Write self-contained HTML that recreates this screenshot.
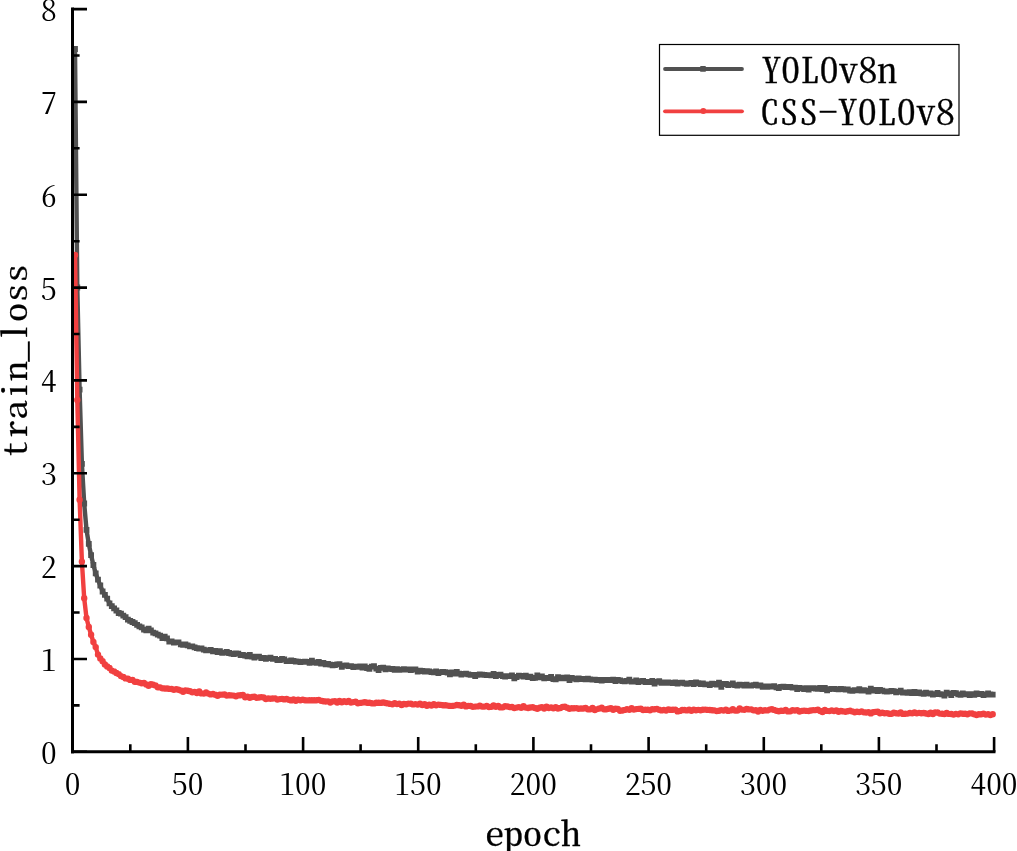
<!DOCTYPE html>
<html><head><meta charset="utf-8"><title>train_loss</title><style>html,body{margin:0;padding:0;background:#fff;}svg{display:block;}</style></head><body>
<svg width="1017" height="851" viewBox="0 0 1017 851">
<rect width="1017" height="851" fill="#fff"/>
<polyline points="75.0,49.0 77.3,287.5 79.6,389.6 81.9,463.9 84.2,503.5 86.5,529.8 88.8,543.9 91.1,555.2 93.4,565.0 95.7,573.4 98.0,579.7 100.3,585.5 102.6,591.5 104.9,594.8 107.2,598.6 109.5,603.4 111.8,606.1 114.1,608.3 116.4,610.5 118.7,613.0 121.0,613.7 123.3,615.7 125.6,617.2 127.9,619.6 130.2,620.8 132.5,622.0 134.8,623.1 137.1,624.8 139.4,626.3 141.7,627.3 144.0,629.6 146.3,630.4 148.6,628.7 150.9,630.3 153.2,632.6 155.5,633.3 157.8,634.7 160.1,635.7 162.4,638.1 164.7,636.7 167.0,638.4 169.3,641.5 171.6,641.5 173.9,642.5 176.2,642.4 178.5,642.3 180.8,644.3 183.1,644.9 185.4,644.5 187.7,645.4 190.0,646.4 192.3,646.3 194.6,647.4 196.9,648.1 199.2,648.5 201.5,648.5 203.8,649.7 206.1,650.4 208.4,650.3 210.7,649.8 213.0,651.3 215.3,650.8 217.6,652.2 219.9,651.1 222.2,652.9 224.5,652.6 226.8,652.0 229.1,653.0 231.4,653.6 233.7,654.1 236.0,653.5 238.3,653.7 240.6,655.0 242.9,654.9 245.2,655.7 247.5,656.4 249.8,654.8 252.1,656.6 254.4,657.6 256.7,656.7 259.0,656.6 261.3,658.1 263.6,658.0 265.9,658.8 268.2,658.1 270.5,657.6 272.8,658.9 275.1,658.9 277.4,660.1 279.7,660.0 282.0,658.9 284.3,659.5 286.6,661.2 288.9,661.2 291.2,660.4 293.5,661.0 295.8,661.5 298.1,661.6 300.4,662.1 302.7,661.8 305.0,661.7 307.3,661.8 309.6,662.9 311.9,660.6 314.2,662.4 316.5,662.8 318.8,661.9 321.1,663.5 323.4,663.0 325.7,664.4 328.0,663.9 330.3,664.7 332.6,665.4 334.9,665.0 337.2,664.3 339.5,664.1 341.8,666.8 344.1,665.6 346.4,665.4 348.7,666.2 351.0,666.1 353.3,667.1 355.6,666.6 357.9,666.8 360.2,666.4 362.5,667.5 364.8,666.5 367.1,668.0 369.4,668.8 371.7,666.7 374.0,666.1 376.3,668.6 378.6,670.2 380.9,667.8 383.2,667.7 385.5,669.3 387.8,668.4 390.1,668.8 392.4,669.0 394.7,669.8 397.0,669.2 399.3,669.9 401.6,669.6 403.9,669.2 406.2,669.7 408.5,669.3 410.8,670.1 413.1,669.4 415.4,669.5 417.7,671.5 420.0,670.6 422.3,671.0 424.6,671.7 426.9,671.2 429.2,671.5 431.5,672.2 433.8,672.3 436.1,671.3 438.4,673.0 440.7,672.1 443.0,671.9 445.3,672.2 447.6,672.7 449.9,674.4 452.2,672.4 454.5,673.6 456.8,672.0 459.1,673.7 461.4,674.5 463.7,673.8 466.0,673.6 468.3,674.4 470.6,674.9 472.9,674.9 475.2,676.0 477.5,674.8 479.8,674.3 482.1,674.7 484.4,674.9 486.7,675.1 489.0,675.1 491.3,675.3 493.6,674.0 495.9,676.0 498.2,675.0 500.5,674.7 502.8,676.1 505.1,676.7 507.4,676.2 509.7,676.1 512.0,675.4 514.3,678.3 516.6,677.0 518.9,675.6 521.2,675.9 523.5,676.7 525.8,675.6 528.1,677.0 530.4,676.6 532.7,678.0 535.0,677.9 537.3,675.3 539.6,677.4 541.9,676.3 544.2,678.4 546.5,677.8 548.8,678.1 551.1,676.9 553.4,679.1 555.7,679.4 558.0,677.1 560.3,678.3 562.6,677.7 564.9,678.3 567.2,677.5 569.5,680.0 571.8,678.0 574.1,678.6 576.4,679.3 578.7,678.5 581.0,679.0 583.3,678.8 585.6,679.3 587.9,678.6 590.2,679.3 592.5,679.6 594.8,679.6 597.1,680.0 599.4,679.8 601.7,680.6 604.0,679.9 606.3,680.1 608.6,679.8 610.9,680.0 613.2,679.6 615.5,681.0 617.8,679.8 620.1,680.3 622.4,681.2 624.7,681.3 627.0,680.8 629.3,679.7 631.6,681.7 633.9,681.6 636.2,680.5 638.5,682.2 640.8,681.2 643.1,681.0 645.4,682.0 647.7,681.9 650.0,682.2 652.3,681.0 654.6,683.6 656.9,681.9 659.2,681.2 661.5,682.9 663.8,682.3 666.1,682.9 668.4,682.5 670.7,682.8 673.0,683.1 675.3,682.4 677.6,683.6 679.9,682.8 682.2,682.6 684.5,683.4 686.8,683.8 689.1,683.3 691.4,683.0 693.7,684.2 696.0,682.5 698.3,683.2 700.6,684.2 702.9,683.3 705.2,684.4 707.5,684.4 709.8,685.1 712.1,683.7 714.4,684.0 716.7,684.7 719.0,682.6 721.3,686.8 723.6,684.0 725.9,684.0 728.2,685.2 730.5,684.6 732.8,683.4 735.1,685.2 737.4,685.5 739.7,684.6 742.0,684.8 744.3,685.5 746.6,684.6 748.9,685.7 751.2,685.7 753.5,685.1 755.8,684.7 758.1,685.7 760.4,685.3 762.7,686.8 765.0,686.3 767.3,686.9 769.6,686.5 771.9,686.7 774.2,686.1 776.5,687.3 778.8,688.2 781.1,686.8 783.4,686.7 785.7,687.1 788.0,687.0 790.3,687.0 792.6,687.7 794.9,687.6 797.2,689.0 799.5,688.0 801.8,688.4 804.1,689.0 806.4,688.2 808.7,689.6 811.0,688.1 813.3,688.1 815.6,688.5 817.9,688.8 820.2,687.9 822.5,689.0 824.8,687.9 827.1,690.3 829.4,689.2 831.7,688.9 834.0,688.8 836.3,689.2 838.6,689.4 840.9,688.9 843.2,689.1 845.5,689.7 847.8,689.5 850.1,690.7 852.4,690.9 854.7,690.1 857.0,690.4 859.3,689.1 861.6,690.6 863.9,690.2 866.2,690.6 868.5,691.5 870.8,688.7 873.1,690.7 875.4,689.8 877.7,691.2 880.0,689.9 882.3,690.6 884.6,691.3 886.9,691.7 889.2,691.4 891.5,690.9 893.8,691.2 896.1,692.4 898.4,691.8 900.7,690.7 903.0,692.7 905.3,692.4 907.6,692.9 909.9,692.1 912.2,693.1 914.5,691.8 916.8,693.1 919.1,692.4 921.4,693.4 923.7,693.8 926.0,692.6 928.3,693.3 930.6,693.5 932.9,694.5 935.2,694.2 937.5,692.8 939.8,694.1 942.1,694.4 944.4,695.5 946.7,692.7 949.0,693.6 951.3,695.0 953.6,693.0 955.9,693.1 958.2,694.4 960.5,694.8 962.8,693.5 965.1,694.4 967.4,694.1 969.7,695.2 972.0,694.1 974.3,694.8 976.6,693.4 978.9,694.0 981.2,694.0 983.5,695.0 985.8,694.5 988.1,693.5 990.4,694.5 992.7,694.6" fill="none" stroke="#515151" stroke-width="4.4" stroke-linejoin="round"/>
<path d="M75.0 49.0h0M77.3 287.5h0M79.6 389.6h0M81.9 463.9h0M84.2 503.5h0M86.5 529.8h0M88.8 543.9h0M91.1 555.2h0M93.4 565.0h0M95.7 573.4h0M98.0 579.7h0M100.3 585.5h0M102.6 591.5h0M104.9 594.8h0M107.2 598.6h0M109.5 603.4h0M111.8 606.1h0M114.1 608.3h0M116.4 610.5h0M118.7 613.0h0M121.0 613.7h0M123.3 615.7h0M125.6 617.2h0M127.9 619.6h0M130.2 620.8h0M132.5 622.0h0M134.8 623.1h0M137.1 624.8h0M139.4 626.3h0M141.7 627.3h0M144.0 629.6h0M146.3 630.4h0M148.6 628.7h0M150.9 630.3h0M153.2 632.6h0M155.5 633.3h0M157.8 634.7h0M160.1 635.7h0M162.4 638.1h0M164.7 636.7h0M167.0 638.4h0M169.3 641.5h0M171.6 641.5h0M173.9 642.5h0M176.2 642.4h0M178.5 642.3h0M180.8 644.3h0M183.1 644.9h0M185.4 644.5h0M187.7 645.4h0M190.0 646.4h0M192.3 646.3h0M194.6 647.4h0M196.9 648.1h0M199.2 648.5h0M201.5 648.5h0M203.8 649.7h0M206.1 650.4h0M208.4 650.3h0M210.7 649.8h0M213.0 651.3h0M215.3 650.8h0M217.6 652.2h0M219.9 651.1h0M222.2 652.9h0M224.5 652.6h0M226.8 652.0h0M229.1 653.0h0M231.4 653.6h0M233.7 654.1h0M236.0 653.5h0M238.3 653.7h0M240.6 655.0h0M242.9 654.9h0M245.2 655.7h0M247.5 656.4h0M249.8 654.8h0M252.1 656.6h0M254.4 657.6h0M256.7 656.7h0M259.0 656.6h0M261.3 658.1h0M263.6 658.0h0M265.9 658.8h0M268.2 658.1h0M270.5 657.6h0M272.8 658.9h0M275.1 658.9h0M277.4 660.1h0M279.7 660.0h0M282.0 658.9h0M284.3 659.5h0M286.6 661.2h0M288.9 661.2h0M291.2 660.4h0M293.5 661.0h0M295.8 661.5h0M298.1 661.6h0M300.4 662.1h0M302.7 661.8h0M305.0 661.7h0M307.3 661.8h0M309.6 662.9h0M311.9 660.6h0M314.2 662.4h0M316.5 662.8h0M318.8 661.9h0M321.1 663.5h0M323.4 663.0h0M325.7 664.4h0M328.0 663.9h0M330.3 664.7h0M332.6 665.4h0M334.9 665.0h0M337.2 664.3h0M339.5 664.1h0M341.8 666.8h0M344.1 665.6h0M346.4 665.4h0M348.7 666.2h0M351.0 666.1h0M353.3 667.1h0M355.6 666.6h0M357.9 666.8h0M360.2 666.4h0M362.5 667.5h0M364.8 666.5h0M367.1 668.0h0M369.4 668.8h0M371.7 666.7h0M374.0 666.1h0M376.3 668.6h0M378.6 670.2h0M380.9 667.8h0M383.2 667.7h0M385.5 669.3h0M387.8 668.4h0M390.1 668.8h0M392.4 669.0h0M394.7 669.8h0M397.0 669.2h0M399.3 669.9h0M401.6 669.6h0M403.9 669.2h0M406.2 669.7h0M408.5 669.3h0M410.8 670.1h0M413.1 669.4h0M415.4 669.5h0M417.7 671.5h0M420.0 670.6h0M422.3 671.0h0M424.6 671.7h0M426.9 671.2h0M429.2 671.5h0M431.5 672.2h0M433.8 672.3h0M436.1 671.3h0M438.4 673.0h0M440.7 672.1h0M443.0 671.9h0M445.3 672.2h0M447.6 672.7h0M449.9 674.4h0M452.2 672.4h0M454.5 673.6h0M456.8 672.0h0M459.1 673.7h0M461.4 674.5h0M463.7 673.8h0M466.0 673.6h0M468.3 674.4h0M470.6 674.9h0M472.9 674.9h0M475.2 676.0h0M477.5 674.8h0M479.8 674.3h0M482.1 674.7h0M484.4 674.9h0M486.7 675.1h0M489.0 675.1h0M491.3 675.3h0M493.6 674.0h0M495.9 676.0h0M498.2 675.0h0M500.5 674.7h0M502.8 676.1h0M505.1 676.7h0M507.4 676.2h0M509.7 676.1h0M512.0 675.4h0M514.3 678.3h0M516.6 677.0h0M518.9 675.6h0M521.2 675.9h0M523.5 676.7h0M525.8 675.6h0M528.1 677.0h0M530.4 676.6h0M532.7 678.0h0M535.0 677.9h0M537.3 675.3h0M539.6 677.4h0M541.9 676.3h0M544.2 678.4h0M546.5 677.8h0M548.8 678.1h0M551.1 676.9h0M553.4 679.1h0M555.7 679.4h0M558.0 677.1h0M560.3 678.3h0M562.6 677.7h0M564.9 678.3h0M567.2 677.5h0M569.5 680.0h0M571.8 678.0h0M574.1 678.6h0M576.4 679.3h0M578.7 678.5h0M581.0 679.0h0M583.3 678.8h0M585.6 679.3h0M587.9 678.6h0M590.2 679.3h0M592.5 679.6h0M594.8 679.6h0M597.1 680.0h0M599.4 679.8h0M601.7 680.6h0M604.0 679.9h0M606.3 680.1h0M608.6 679.8h0M610.9 680.0h0M613.2 679.6h0M615.5 681.0h0M617.8 679.8h0M620.1 680.3h0M622.4 681.2h0M624.7 681.3h0M627.0 680.8h0M629.3 679.7h0M631.6 681.7h0M633.9 681.6h0M636.2 680.5h0M638.5 682.2h0M640.8 681.2h0M643.1 681.0h0M645.4 682.0h0M647.7 681.9h0M650.0 682.2h0M652.3 681.0h0M654.6 683.6h0M656.9 681.9h0M659.2 681.2h0M661.5 682.9h0M663.8 682.3h0M666.1 682.9h0M668.4 682.5h0M670.7 682.8h0M673.0 683.1h0M675.3 682.4h0M677.6 683.6h0M679.9 682.8h0M682.2 682.6h0M684.5 683.4h0M686.8 683.8h0M689.1 683.3h0M691.4 683.0h0M693.7 684.2h0M696.0 682.5h0M698.3 683.2h0M700.6 684.2h0M702.9 683.3h0M705.2 684.4h0M707.5 684.4h0M709.8 685.1h0M712.1 683.7h0M714.4 684.0h0M716.7 684.7h0M719.0 682.6h0M721.3 686.8h0M723.6 684.0h0M725.9 684.0h0M728.2 685.2h0M730.5 684.6h0M732.8 683.4h0M735.1 685.2h0M737.4 685.5h0M739.7 684.6h0M742.0 684.8h0M744.3 685.5h0M746.6 684.6h0M748.9 685.7h0M751.2 685.7h0M753.5 685.1h0M755.8 684.7h0M758.1 685.7h0M760.4 685.3h0M762.7 686.8h0M765.0 686.3h0M767.3 686.9h0M769.6 686.5h0M771.9 686.7h0M774.2 686.1h0M776.5 687.3h0M778.8 688.2h0M781.1 686.8h0M783.4 686.7h0M785.7 687.1h0M788.0 687.0h0M790.3 687.0h0M792.6 687.7h0M794.9 687.6h0M797.2 689.0h0M799.5 688.0h0M801.8 688.4h0M804.1 689.0h0M806.4 688.2h0M808.7 689.6h0M811.0 688.1h0M813.3 688.1h0M815.6 688.5h0M817.9 688.8h0M820.2 687.9h0M822.5 689.0h0M824.8 687.9h0M827.1 690.3h0M829.4 689.2h0M831.7 688.9h0M834.0 688.8h0M836.3 689.2h0M838.6 689.4h0M840.9 688.9h0M843.2 689.1h0M845.5 689.7h0M847.8 689.5h0M850.1 690.7h0M852.4 690.9h0M854.7 690.1h0M857.0 690.4h0M859.3 689.1h0M861.6 690.6h0M863.9 690.2h0M866.2 690.6h0M868.5 691.5h0M870.8 688.7h0M873.1 690.7h0M875.4 689.8h0M877.7 691.2h0M880.0 689.9h0M882.3 690.6h0M884.6 691.3h0M886.9 691.7h0M889.2 691.4h0M891.5 690.9h0M893.8 691.2h0M896.1 692.4h0M898.4 691.8h0M900.7 690.7h0M903.0 692.7h0M905.3 692.4h0M907.6 692.9h0M909.9 692.1h0M912.2 693.1h0M914.5 691.8h0M916.8 693.1h0M919.1 692.4h0M921.4 693.4h0M923.7 693.8h0M926.0 692.6h0M928.3 693.3h0M930.6 693.5h0M932.9 694.5h0M935.2 694.2h0M937.5 692.8h0M939.8 694.1h0M942.1 694.4h0M944.4 695.5h0M946.7 692.7h0M949.0 693.6h0M951.3 695.0h0M953.6 693.0h0M955.9 693.1h0M958.2 694.4h0M960.5 694.8h0M962.8 693.5h0M965.1 694.4h0M967.4 694.1h0M969.7 695.2h0M972.0 694.1h0M974.3 694.8h0M976.6 693.4h0M978.9 694.0h0M981.2 694.0h0M983.5 695.0h0M985.8 694.5h0M988.1 693.5h0M990.4 694.5h0M992.7 694.6h0" stroke="#515151" stroke-width="5.8" stroke-linecap="square" fill="none"/>
<polyline points="75.0,255.0 77.3,400.0 79.6,499.7 81.9,561.6 84.2,598.3 86.5,618.0 88.8,627.0 91.1,634.7 93.4,642.0 95.7,647.1 98.0,654.6 100.3,658.5 102.6,661.2 104.9,664.4 107.2,666.4 109.5,667.9 111.8,670.6 114.1,671.5 116.4,673.0 118.7,674.1 121.0,676.1 123.3,677.0 125.6,678.4 127.9,678.7 130.2,679.9 132.5,680.0 134.8,681.7 137.1,681.9 139.4,682.6 141.7,683.2 144.0,683.0 146.3,684.5 148.6,685.7 150.9,684.2 153.2,684.7 155.5,685.4 157.8,687.3 160.1,687.4 162.4,688.3 164.7,688.5 167.0,688.5 169.3,688.9 171.6,689.0 173.9,689.8 176.2,689.1 178.5,689.8 180.8,690.5 183.1,691.7 185.4,690.5 187.7,690.7 190.0,691.2 192.3,692.3 194.6,691.9 196.9,693.1 199.2,691.5 201.5,693.4 203.8,693.6 206.1,692.5 208.4,693.6 210.7,694.4 213.0,694.0 215.3,694.7 217.6,695.7 219.9,694.7 222.2,694.6 224.5,694.5 226.8,695.5 229.1,695.2 231.4,695.4 233.7,695.6 236.0,696.2 238.3,695.4 240.6,695.3 242.9,695.0 245.2,697.2 247.5,696.7 249.8,697.7 252.1,697.0 254.4,696.8 256.7,697.7 259.0,697.5 261.3,697.1 263.6,697.5 265.9,699.1 268.2,698.5 270.5,698.7 272.8,698.5 275.1,698.4 277.4,699.5 279.7,699.1 282.0,698.9 284.3,699.4 286.6,699.0 288.9,699.8 291.2,700.4 293.5,699.4 295.8,700.7 298.1,699.7 300.4,700.2 302.7,699.7 305.0,700.2 307.3,700.4 309.6,700.2 311.9,700.2 314.2,700.3 316.5,700.3 318.8,699.9 321.1,700.7 323.4,701.2 325.7,701.5 328.0,701.4 330.3,702.5 332.6,701.4 334.9,701.1 337.2,702.5 339.5,701.0 341.8,702.2 344.1,701.2 346.4,702.0 348.7,700.9 351.0,702.6 353.3,702.1 355.6,701.8 357.9,703.3 360.2,702.9 362.5,702.6 364.8,702.3 367.1,702.7 369.4,702.8 371.7,703.3 374.0,703.4 376.3,702.7 378.6,702.8 380.9,702.9 383.2,702.5 385.5,703.0 387.8,703.4 390.1,703.9 392.4,704.3 394.7,703.2 397.0,704.1 399.3,703.6 401.6,705.1 403.9,704.0 406.2,704.3 408.5,703.6 410.8,703.7 413.1,704.4 415.4,704.1 417.7,704.6 420.0,703.6 422.3,705.0 424.6,704.2 426.9,705.7 429.2,704.7 431.5,705.5 433.8,704.2 436.1,705.3 438.4,704.6 440.7,704.9 443.0,705.3 445.3,705.2 447.6,705.6 449.9,705.9 452.2,705.9 454.5,705.6 456.8,705.0 459.1,705.3 461.4,705.7 463.7,704.7 466.0,706.4 468.3,705.9 470.6,706.0 472.9,706.7 475.2,706.6 477.5,706.4 479.8,705.8 482.1,706.5 484.4,706.6 486.7,706.0 489.0,707.1 491.3,706.8 493.6,705.5 495.9,706.7 498.2,706.0 500.5,707.4 502.8,707.3 505.1,706.3 507.4,706.5 509.7,707.1 512.0,707.0 514.3,708.0 516.6,707.6 518.9,707.1 521.2,707.7 523.5,706.3 525.8,707.6 528.1,708.0 530.4,707.5 532.7,707.2 535.0,708.0 537.3,708.8 539.6,707.8 541.9,707.1 544.2,708.6 546.5,706.7 548.8,708.0 551.1,707.5 553.4,708.3 555.7,707.3 558.0,708.5 560.3,708.0 562.6,706.9 564.9,706.8 567.2,707.8 569.5,708.7 571.8,708.2 574.1,708.2 576.4,708.1 578.7,708.7 581.0,708.5 583.3,708.5 585.6,707.9 587.9,709.2 590.2,709.3 592.5,707.9 594.8,710.0 597.1,709.1 599.4,708.5 601.7,707.8 604.0,709.3 606.3,709.2 608.6,708.7 610.9,708.1 613.2,709.7 615.5,708.8 617.8,708.9 620.1,710.8 622.4,710.5 624.7,709.9 627.0,709.1 629.3,709.8 631.6,708.2 633.9,709.6 636.2,709.1 638.5,708.9 640.8,708.8 643.1,710.0 645.4,709.8 647.7,709.8 650.0,710.2 652.3,709.3 654.6,709.2 656.9,708.9 659.2,709.8 661.5,710.4 663.8,710.0 666.1,710.5 668.4,709.5 670.7,709.9 673.0,709.8 675.3,709.6 677.6,711.4 679.9,710.9 682.2,710.0 684.5,710.0 686.8,710.4 689.1,709.7 691.4,710.7 693.7,709.8 696.0,710.3 698.3,709.9 700.6,710.2 702.9,709.7 705.2,709.6 707.5,709.9 709.8,710.0 712.1,710.2 714.4,710.4 716.7,711.1 719.0,710.7 721.3,710.1 723.6,710.6 725.9,709.8 728.2,710.9 730.5,710.4 732.8,709.3 735.1,710.5 737.4,710.5 739.7,708.5 742.0,709.6 744.3,709.7 746.6,708.9 748.9,709.4 751.2,709.4 753.5,710.3 755.8,710.2 758.1,711.5 760.4,709.9 762.7,710.8 765.0,710.2 767.3,710.4 769.6,709.6 771.9,709.3 774.2,709.9 776.5,710.8 778.8,711.3 781.1,710.8 783.4,710.8 785.7,710.0 788.0,711.4 790.3,711.3 792.6,710.3 794.9,710.6 797.2,710.1 799.5,711.5 801.8,710.9 804.1,710.6 806.4,710.9 808.7,711.0 811.0,710.5 813.3,710.1 815.6,710.1 817.9,709.8 820.2,711.0 822.5,712.0 824.8,709.9 827.1,710.9 829.4,711.1 831.7,710.4 834.0,711.1 836.3,710.4 838.6,711.8 840.9,710.9 843.2,711.4 845.5,711.8 847.8,711.3 850.1,710.6 852.4,711.4 854.7,712.2 857.0,711.8 859.3,712.1 861.6,711.4 863.9,712.2 866.2,712.6 868.5,712.2 870.8,713.4 873.1,712.3 875.4,711.9 877.7,711.7 880.0,713.2 882.3,712.7 884.6,713.3 886.9,713.1 889.2,713.8 891.5,713.7 893.8,712.8 896.1,713.2 898.4,713.6 900.7,712.4 903.0,713.9 905.3,713.7 907.6,713.6 909.9,713.0 912.2,713.3 914.5,712.5 916.8,713.2 919.1,712.9 921.4,713.3 923.7,713.0 926.0,713.5 928.3,714.0 930.6,712.7 932.9,714.0 935.2,712.5 937.5,712.5 939.8,713.6 942.1,713.8 944.4,714.1 946.7,713.0 949.0,713.9 951.3,714.0 953.6,714.6 955.9,713.9 958.2,714.2 960.5,713.4 962.8,713.8 965.1,713.7 967.4,714.3 969.7,713.4 972.0,713.5 974.3,714.3 976.6,715.0 978.9,714.2 981.2,714.2 983.5,713.8 985.8,714.6 988.1,714.3 990.4,715.0 992.7,714.2" fill="none" stroke="#F14040" stroke-width="4.4" stroke-linejoin="round"/>
<path d="M75.0 255.0h0M77.3 400.0h0M79.6 499.7h0M81.9 561.6h0M84.2 598.3h0M86.5 618.0h0M88.8 627.0h0M91.1 634.7h0M93.4 642.0h0M95.7 647.1h0M98.0 654.6h0M100.3 658.5h0M102.6 661.2h0M104.9 664.4h0M107.2 666.4h0M109.5 667.9h0M111.8 670.6h0M114.1 671.5h0M116.4 673.0h0M118.7 674.1h0M121.0 676.1h0M123.3 677.0h0M125.6 678.4h0M127.9 678.7h0M130.2 679.9h0M132.5 680.0h0M134.8 681.7h0M137.1 681.9h0M139.4 682.6h0M141.7 683.2h0M144.0 683.0h0M146.3 684.5h0M148.6 685.7h0M150.9 684.2h0M153.2 684.7h0M155.5 685.4h0M157.8 687.3h0M160.1 687.4h0M162.4 688.3h0M164.7 688.5h0M167.0 688.5h0M169.3 688.9h0M171.6 689.0h0M173.9 689.8h0M176.2 689.1h0M178.5 689.8h0M180.8 690.5h0M183.1 691.7h0M185.4 690.5h0M187.7 690.7h0M190.0 691.2h0M192.3 692.3h0M194.6 691.9h0M196.9 693.1h0M199.2 691.5h0M201.5 693.4h0M203.8 693.6h0M206.1 692.5h0M208.4 693.6h0M210.7 694.4h0M213.0 694.0h0M215.3 694.7h0M217.6 695.7h0M219.9 694.7h0M222.2 694.6h0M224.5 694.5h0M226.8 695.5h0M229.1 695.2h0M231.4 695.4h0M233.7 695.6h0M236.0 696.2h0M238.3 695.4h0M240.6 695.3h0M242.9 695.0h0M245.2 697.2h0M247.5 696.7h0M249.8 697.7h0M252.1 697.0h0M254.4 696.8h0M256.7 697.7h0M259.0 697.5h0M261.3 697.1h0M263.6 697.5h0M265.9 699.1h0M268.2 698.5h0M270.5 698.7h0M272.8 698.5h0M275.1 698.4h0M277.4 699.5h0M279.7 699.1h0M282.0 698.9h0M284.3 699.4h0M286.6 699.0h0M288.9 699.8h0M291.2 700.4h0M293.5 699.4h0M295.8 700.7h0M298.1 699.7h0M300.4 700.2h0M302.7 699.7h0M305.0 700.2h0M307.3 700.4h0M309.6 700.2h0M311.9 700.2h0M314.2 700.3h0M316.5 700.3h0M318.8 699.9h0M321.1 700.7h0M323.4 701.2h0M325.7 701.5h0M328.0 701.4h0M330.3 702.5h0M332.6 701.4h0M334.9 701.1h0M337.2 702.5h0M339.5 701.0h0M341.8 702.2h0M344.1 701.2h0M346.4 702.0h0M348.7 700.9h0M351.0 702.6h0M353.3 702.1h0M355.6 701.8h0M357.9 703.3h0M360.2 702.9h0M362.5 702.6h0M364.8 702.3h0M367.1 702.7h0M369.4 702.8h0M371.7 703.3h0M374.0 703.4h0M376.3 702.7h0M378.6 702.8h0M380.9 702.9h0M383.2 702.5h0M385.5 703.0h0M387.8 703.4h0M390.1 703.9h0M392.4 704.3h0M394.7 703.2h0M397.0 704.1h0M399.3 703.6h0M401.6 705.1h0M403.9 704.0h0M406.2 704.3h0M408.5 703.6h0M410.8 703.7h0M413.1 704.4h0M415.4 704.1h0M417.7 704.6h0M420.0 703.6h0M422.3 705.0h0M424.6 704.2h0M426.9 705.7h0M429.2 704.7h0M431.5 705.5h0M433.8 704.2h0M436.1 705.3h0M438.4 704.6h0M440.7 704.9h0M443.0 705.3h0M445.3 705.2h0M447.6 705.6h0M449.9 705.9h0M452.2 705.9h0M454.5 705.6h0M456.8 705.0h0M459.1 705.3h0M461.4 705.7h0M463.7 704.7h0M466.0 706.4h0M468.3 705.9h0M470.6 706.0h0M472.9 706.7h0M475.2 706.6h0M477.5 706.4h0M479.8 705.8h0M482.1 706.5h0M484.4 706.6h0M486.7 706.0h0M489.0 707.1h0M491.3 706.8h0M493.6 705.5h0M495.9 706.7h0M498.2 706.0h0M500.5 707.4h0M502.8 707.3h0M505.1 706.3h0M507.4 706.5h0M509.7 707.1h0M512.0 707.0h0M514.3 708.0h0M516.6 707.6h0M518.9 707.1h0M521.2 707.7h0M523.5 706.3h0M525.8 707.6h0M528.1 708.0h0M530.4 707.5h0M532.7 707.2h0M535.0 708.0h0M537.3 708.8h0M539.6 707.8h0M541.9 707.1h0M544.2 708.6h0M546.5 706.7h0M548.8 708.0h0M551.1 707.5h0M553.4 708.3h0M555.7 707.3h0M558.0 708.5h0M560.3 708.0h0M562.6 706.9h0M564.9 706.8h0M567.2 707.8h0M569.5 708.7h0M571.8 708.2h0M574.1 708.2h0M576.4 708.1h0M578.7 708.7h0M581.0 708.5h0M583.3 708.5h0M585.6 707.9h0M587.9 709.2h0M590.2 709.3h0M592.5 707.9h0M594.8 710.0h0M597.1 709.1h0M599.4 708.5h0M601.7 707.8h0M604.0 709.3h0M606.3 709.2h0M608.6 708.7h0M610.9 708.1h0M613.2 709.7h0M615.5 708.8h0M617.8 708.9h0M620.1 710.8h0M622.4 710.5h0M624.7 709.9h0M627.0 709.1h0M629.3 709.8h0M631.6 708.2h0M633.9 709.6h0M636.2 709.1h0M638.5 708.9h0M640.8 708.8h0M643.1 710.0h0M645.4 709.8h0M647.7 709.8h0M650.0 710.2h0M652.3 709.3h0M654.6 709.2h0M656.9 708.9h0M659.2 709.8h0M661.5 710.4h0M663.8 710.0h0M666.1 710.5h0M668.4 709.5h0M670.7 709.9h0M673.0 709.8h0M675.3 709.6h0M677.6 711.4h0M679.9 710.9h0M682.2 710.0h0M684.5 710.0h0M686.8 710.4h0M689.1 709.7h0M691.4 710.7h0M693.7 709.8h0M696.0 710.3h0M698.3 709.9h0M700.6 710.2h0M702.9 709.7h0M705.2 709.6h0M707.5 709.9h0M709.8 710.0h0M712.1 710.2h0M714.4 710.4h0M716.7 711.1h0M719.0 710.7h0M721.3 710.1h0M723.6 710.6h0M725.9 709.8h0M728.2 710.9h0M730.5 710.4h0M732.8 709.3h0M735.1 710.5h0M737.4 710.5h0M739.7 708.5h0M742.0 709.6h0M744.3 709.7h0M746.6 708.9h0M748.9 709.4h0M751.2 709.4h0M753.5 710.3h0M755.8 710.2h0M758.1 711.5h0M760.4 709.9h0M762.7 710.8h0M765.0 710.2h0M767.3 710.4h0M769.6 709.6h0M771.9 709.3h0M774.2 709.9h0M776.5 710.8h0M778.8 711.3h0M781.1 710.8h0M783.4 710.8h0M785.7 710.0h0M788.0 711.4h0M790.3 711.3h0M792.6 710.3h0M794.9 710.6h0M797.2 710.1h0M799.5 711.5h0M801.8 710.9h0M804.1 710.6h0M806.4 710.9h0M808.7 711.0h0M811.0 710.5h0M813.3 710.1h0M815.6 710.1h0M817.9 709.8h0M820.2 711.0h0M822.5 712.0h0M824.8 709.9h0M827.1 710.9h0M829.4 711.1h0M831.7 710.4h0M834.0 711.1h0M836.3 710.4h0M838.6 711.8h0M840.9 710.9h0M843.2 711.4h0M845.5 711.8h0M847.8 711.3h0M850.1 710.6h0M852.4 711.4h0M854.7 712.2h0M857.0 711.8h0M859.3 712.1h0M861.6 711.4h0M863.9 712.2h0M866.2 712.6h0M868.5 712.2h0M870.8 713.4h0M873.1 712.3h0M875.4 711.9h0M877.7 711.7h0M880.0 713.2h0M882.3 712.7h0M884.6 713.3h0M886.9 713.1h0M889.2 713.8h0M891.5 713.7h0M893.8 712.8h0M896.1 713.2h0M898.4 713.6h0M900.7 712.4h0M903.0 713.9h0M905.3 713.7h0M907.6 713.6h0M909.9 713.0h0M912.2 713.3h0M914.5 712.5h0M916.8 713.2h0M919.1 712.9h0M921.4 713.3h0M923.7 713.0h0M926.0 713.5h0M928.3 714.0h0M930.6 712.7h0M932.9 714.0h0M935.2 712.5h0M937.5 712.5h0M939.8 713.6h0M942.1 713.8h0M944.4 714.1h0M946.7 713.0h0M949.0 713.9h0M951.3 714.0h0M953.6 714.6h0M955.9 713.9h0M958.2 714.2h0M960.5 713.4h0M962.8 713.8h0M965.1 713.7h0M967.4 714.3h0M969.7 713.4h0M972.0 713.5h0M974.3 714.3h0M976.6 715.0h0M978.9 714.2h0M981.2 714.2h0M983.5 713.8h0M985.8 714.6h0M988.1 714.3h0M990.4 715.0h0M992.7 714.2h0" stroke="#F14040" stroke-width="6.4" stroke-linecap="round" fill="none"/>
<path d="M72.5 751.8H87M72.5 659.0H87M72.5 566.1H87M72.5 473.3H87M72.5 380.4H87M72.5 287.6H87M72.5 194.8H87M72.5 101.9H87M72.5 9.1H87M72.5 705.4H79.6M72.5 612.5H79.6M72.5 519.7H79.6M72.5 426.9H79.6M72.5 334.0H79.6M72.5 241.2H79.6M72.5 148.3H79.6M72.5 55.5H79.6M187.9 751.8V737M303.1 751.8V737M418.2 751.8V737M533.4 751.8V737M648.6 751.8V737M763.8 751.8V737M878.9 751.8V737M994.1 751.8V737M130.3 751.8V744.3M245.5 751.8V744.3M360.6 751.8V744.3M475.8 751.8V744.3M591.0 751.8V744.3M706.2 751.8V744.3M821.3 751.8V744.3M936.5 751.8V744.3" stroke="#000" stroke-width="2.6" fill="none"/>
<path d="M72.5 7.6V753.4M71.2 751.8H995.5" stroke="#000" stroke-width="3" fill="none"/>
<text transform="translate(41.05 763.80) scale(1.08 1)" x="0.00" y="0" font-family='"Noto Serif CJK SC", "Liberation Serif", serif' font-size="29" font-weight="400" style="font-feature-settings:'hwid'">0</text>
<text transform="translate(41.05 670.96) scale(1.08 1)" x="0.00" y="0" font-family='"Noto Serif CJK SC", "Liberation Serif", serif' font-size="29" font-weight="400" style="font-feature-settings:'hwid'">1</text>
<text transform="translate(41.05 578.12) scale(1.08 1)" x="0.00" y="0" font-family='"Noto Serif CJK SC", "Liberation Serif", serif' font-size="29" font-weight="400" style="font-feature-settings:'hwid'">2</text>
<text transform="translate(41.05 485.28) scale(1.08 1)" x="0.00" y="0" font-family='"Noto Serif CJK SC", "Liberation Serif", serif' font-size="29" font-weight="400" style="font-feature-settings:'hwid'">3</text>
<text transform="translate(41.05 392.44) scale(1.08 1)" x="0.00" y="0" font-family='"Noto Serif CJK SC", "Liberation Serif", serif' font-size="29" font-weight="400" style="font-feature-settings:'hwid'">4</text>
<text transform="translate(41.05 299.60) scale(1.08 1)" x="0.00" y="0" font-family='"Noto Serif CJK SC", "Liberation Serif", serif' font-size="29" font-weight="400" style="font-feature-settings:'hwid'">5</text>
<text transform="translate(41.05 206.76) scale(1.08 1)" x="0.00" y="0" font-family='"Noto Serif CJK SC", "Liberation Serif", serif' font-size="29" font-weight="400" style="font-feature-settings:'hwid'">6</text>
<text transform="translate(41.05 113.92) scale(1.08 1)" x="0.00" y="0" font-family='"Noto Serif CJK SC", "Liberation Serif", serif' font-size="29" font-weight="400" style="font-feature-settings:'hwid'">7</text>
<text transform="translate(41.05 21.08) scale(1.08 1)" x="0.00" y="0" font-family='"Noto Serif CJK SC", "Liberation Serif", serif' font-size="29" font-weight="400" style="font-feature-settings:'hwid'">8</text>
<text transform="translate(64.75 795.00) scale(1.08 1)" x="0.00" y="0" font-family='"Noto Serif CJK SC", "Liberation Serif", serif' font-size="29" font-weight="400" style="font-feature-settings:'hwid'">0</text>
<text transform="translate(172.08 795.00) scale(1.08 1)" x="0.00 14.54" y="0" font-family='"Noto Serif CJK SC", "Liberation Serif", serif' font-size="29" font-weight="400" style="font-feature-settings:'hwid'">50</text>
<text transform="translate(279.40 795.00) scale(1.08 1)" x="0.00 14.54 29.07" y="0" font-family='"Noto Serif CJK SC", "Liberation Serif", serif' font-size="29" font-weight="400" style="font-feature-settings:'hwid'">100</text>
<text transform="translate(394.57 795.00) scale(1.08 1)" x="0.00 14.54 29.07" y="0" font-family='"Noto Serif CJK SC", "Liberation Serif", serif' font-size="29" font-weight="400" style="font-feature-settings:'hwid'">150</text>
<text transform="translate(509.75 795.00) scale(1.08 1)" x="0.00 14.54 29.07" y="0" font-family='"Noto Serif CJK SC", "Liberation Serif", serif' font-size="29" font-weight="400" style="font-feature-settings:'hwid'">200</text>
<text transform="translate(624.93 795.00) scale(1.08 1)" x="0.00 14.54 29.07" y="0" font-family='"Noto Serif CJK SC", "Liberation Serif", serif' font-size="29" font-weight="400" style="font-feature-settings:'hwid'">250</text>
<text transform="translate(740.10 795.00) scale(1.08 1)" x="0.00 14.54 29.07" y="0" font-family='"Noto Serif CJK SC", "Liberation Serif", serif' font-size="29" font-weight="400" style="font-feature-settings:'hwid'">300</text>
<text transform="translate(855.28 795.00) scale(1.08 1)" x="0.00 14.54 29.07" y="0" font-family='"Noto Serif CJK SC", "Liberation Serif", serif' font-size="29" font-weight="400" style="font-feature-settings:'hwid'">350</text>
<text transform="translate(970.45 795.00) scale(1.08 1)" x="0.00 14.54 29.07" y="0" font-family='"Noto Serif CJK SC", "Liberation Serif", serif' font-size="29" font-weight="400" style="font-feature-settings:'hwid'">400</text>
<rect x="659.5" y="44.5" width="299.5" height="90.8" fill="#fff" stroke="#000" stroke-width="1.2"/>
<path d="M665 69H742" stroke="#515151" stroke-width="3.8" stroke-linecap="round"/>
<rect x="700.2" y="66" width="5.6" height="5.8" rx="0.6" fill="#515151"/>
<path d="M665 111.3H742" stroke="#F14040" stroke-width="3.8" stroke-linecap="round"/>
<circle cx="703.3" cy="111.1" r="3" fill="#F14040"/>
<text transform="translate(761.63 82.70) scale(1.085 1)" x="0.00 17.79 35.58 53.36 71.15 88.94 106.73" y="0" font-family='"Noto Serif CJK SC", "Liberation Serif", serif' font-size="35.3" font-weight="400" stroke="#000" stroke-width="0.3" style="font-feature-settings:'hwid'">YOLOv8n</text>
<text transform="translate(759.91 125.00) scale(1.085 1)" x="0.00 18.02 36.04 54.06 72.07 90.09 108.11 126.13 144.15 162.17" y="0" font-family='"Noto Serif CJK SC", "Liberation Serif", serif' font-size="35.3" font-weight="400" stroke="#000" stroke-width="0.3" style="font-feature-settings:'hwid'">CSS-YOLOv8</text>
<text transform="translate(484.90 845.70) scale(1.14 1)" x="0.00 16.75 33.51 50.26 67.02" y="0" font-family='"Noto Serif CJK SC", "Liberation Serif", serif' font-size="33.5" font-weight="400" stroke="#000" stroke-width="0.3" style="font-feature-settings:'hwid'">epoch</text>
<g transform="translate(27.2 455.1) rotate(-90)"><text transform="translate(-3.85 0.00) scale(1.167 1)" x="0.00 16.75 33.50 50.26 67.01 83.76 100.51 117.27 134.02 150.77" y="0" font-family='"Noto Serif CJK SC", "Liberation Serif", serif' font-size="33" font-weight="400" stroke="#000" stroke-width="0.3" style="font-feature-settings:'hwid'">train_loss</text></g>
</svg>
</body></html>
